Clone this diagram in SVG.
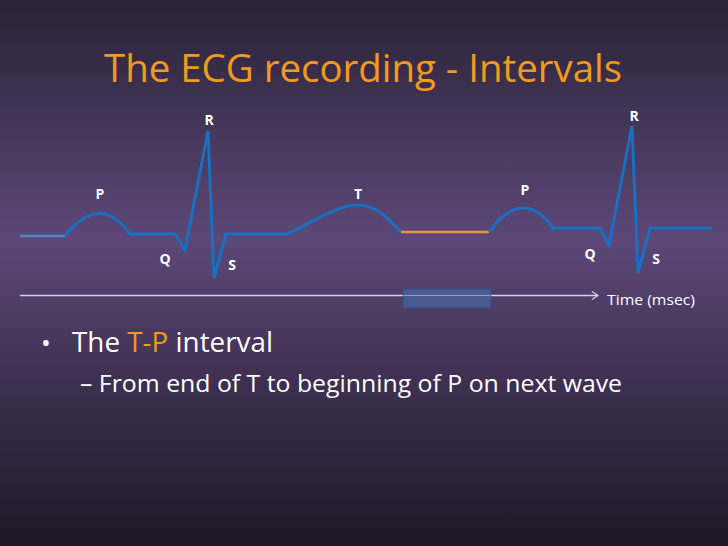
<svg xmlns="http://www.w3.org/2000/svg" width="728" height="546" viewBox="0 0 728 546">
<defs>
<linearGradient id="bg" x1="0" y1="0" x2="0" y2="1">
<stop offset="0" stop-color="#2a2236"/>
<stop offset="0.44" stop-color="#5c4878"/>
<stop offset="0.7" stop-color="#3e3050"/>
<stop offset="1" stop-color="#1d1826"/>
</linearGradient>
<marker id="arr" markerWidth="10" markerHeight="10" refX="8" refY="5" orient="auto" markerUnits="userSpaceOnUse">
<path d="M2,1 L8,5 L2,9" fill="none" stroke="#d8d0e8" stroke-width="1.2"/>
</marker>
</defs>
<style>
.lbl{font-family:"Open Sans","DejaVu Sans",sans-serif;font-weight:bold;font-size:14px;fill:#ffffff;text-anchor:middle}
.ecg{fill:none;stroke:#1a6fc2;stroke-width:3;stroke-linejoin:miter}
.body{font-family:"Open Sans","Liberation Sans",sans-serif;fill:#ffffff}
</style>
<rect width="728" height="546" fill="url(#bg)"/>
<text x="363" y="82" text-anchor="middle" font-family="Open Sans, Liberation Sans, sans-serif" font-size="38" fill="#f29a1e" textLength="518" lengthAdjust="spacingAndGlyphs">The ECG recording - Intervals</text>
<g id="connectors">
<line x1="20" y1="236" x2="65" y2="236" stroke="#4f86c6" stroke-width="2.5"/>
<path class="ecg" d="M65,236 Q100,192 130,234 L175,234 L185,250 L208,131 L214,278 L226,234 L288,234 C320,218 340,204 360,205 C375,206 385,215 401,232"/>
<line x1="401" y1="232" x2="489" y2="232" stroke="#e8973a" stroke-width="2.5"/>
<path class="ecg" d="M489,232 Q523,186 553,228 L600,228 L609,245 L632,126 L638,273 L650,228 L712,228"/>
<line x1="20" y1="295.5" x2="598" y2="295.5" stroke="#d8d0e8" stroke-width="1.5" marker-end="url(#arr)"/>
</g>
<g id="box">
<rect x="403.5" y="289.5" width="87" height="18" fill="#4a5e95" stroke="#3a5a90" stroke-width="1.5" opacity="0.9"/>
<line x1="404" y1="295.5" x2="490" y2="295.5" stroke="#8aa0cc" stroke-width="1"/>
</g>
<g id="labels">
<text class="lbl" x="209" y="125">R</text>
<text class="lbl" x="100" y="199">P</text>
<text class="lbl" x="165" y="264">Q</text>
<text class="lbl" x="232" y="270">S</text>
<text class="lbl" x="358" y="199">T</text>
<text class="lbl" x="525" y="195">P</text>
<text class="lbl" x="634" y="121">R</text>
<text class="lbl" x="590" y="259">Q</text>
<text class="lbl" x="656" y="264">S</text>
<text x="607" y="305" font-family="Open Sans, Liberation Sans, sans-serif" font-size="15" fill="#ffffff" textLength="88" lengthAdjust="spacingAndGlyphs">Time (msec)</text>
</g>
<g id="bullets">
<text class="body" x="41" y="352" font-size="26">•</text>
<text class="body" x="72" y="352" font-size="27" textLength="201" lengthAdjust="spacingAndGlyphs">The <tspan fill="#f29a1e">T-P</tspan> interval</text>
<text class="body" x="80" y="392" font-size="23" textLength="542" lengthAdjust="spacingAndGlyphs">– From end of T to beginning of P on next wave</text>
</g>
</svg>
